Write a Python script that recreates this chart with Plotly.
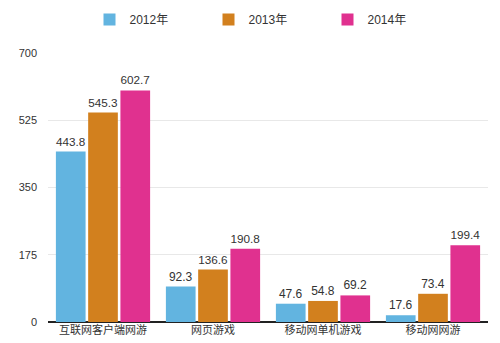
import plotly.graph_objects as go

categories = ["互联网客户端网游", "网页游戏", "移动网单机游戏", "移动网网游"]
series_names = ["2012年", "2013年", "2014年"]
v2012 = [443.8, 92.3, 47.6, 17.6]
v2013 = [545.3, 136.6, 54.8, 73.4]
v2014 = [602.7, 190.8, 69.2, 199.4]
y_ticks = [0, 175, 350, 525, 700]

colors = ["#62b4e0", "#d2801e", "#e0318f"]
font_fam = "Liberation Sans, Noto Sans CJK SC, sans-serif"

fig = go.Figure()
for name, vals, c in zip(series_names, [v2012, v2013, v2014], colors):
    fig.add_trace(go.Bar(
        x=categories, y=vals, name=name, marker_color=c, marker_line_width=0,
        text=[f"{v:.1f}" for v in vals], textposition="outside",
        textfont=dict(size=12, color="#333333", family=font_fam),
        cliponaxis=False,
    ))

fig.update_layout(
    width=500, height=343,
    margin=dict(l=48, r=12, t=53, b=21, autoexpand=False),
    paper_bgcolor="white", plot_bgcolor="white",
    barmode="group", bargap=0.12, bargroupgap=0.08,
    font=dict(family=font_fam, size=11, color="#333333"),
    showlegend=True,
    legend=dict(orientation="h", x=0.5, xanchor="center", y=1.125, yanchor="middle",
                entrywidth=74, font=dict(size=12, color="#333333"), itemwidth=30),
    xaxis=dict(showgrid=False, ticks="", showline=False,
               tickfont=dict(size=11, color="#333333", family="Noto Sans CJK SC")),
    yaxis=dict(range=[0, 700], tickvals=y_ticks, showgrid=True, gridcolor="#e8e8e8",
               gridwidth=1, zeroline=True, zerolinecolor="#222222", zerolinewidth=2,
               ticks="", tickfont=dict(size=11, color="#333333"), ticklabelstandoff=10),
)

fig.write_html("out.html")
